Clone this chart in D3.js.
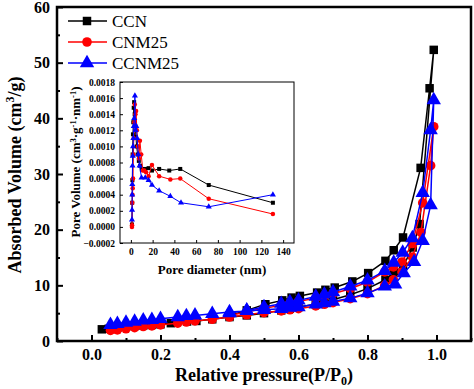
<!DOCTYPE html>
<html>
<head>
<meta charset="utf-8">
<script src="https://cdn.jsdelivr.net/npm/d3@7"></script>
<style>
  body { margin: 0; background: #fff; }
  text { font-family: "Liberation Serif", "Times New Roman", serif; }
</style>
</head>
<body>
<div id="chart"></div>
<script>
// Datos del gráfico principal (isotermas)
var seriesNames = ["CCN", "CNM25", "CCNM25"];
var seriesColors = ["#000000", "#ff0000", "#0000ff"];

var ccnP = [0.03, 0.05, 0.075, 0.1, 0.125, 0.15, 0.175, 0.2, 0.23, 0.277, 0.304, 0.35, 0.4, 0.45, 0.5, 0.55, 0.575, 0.6, 0.65, 0.675, 0.7, 0.75, 0.8, 0.852, 0.876, 0.903, 0.931, 0.951, 0.992,
            0.98, 0.954, 0.903, 0.876, 0.852, 0.802, 0.756, 0.705, 0.678, 0.654, 0.604, 0.58, 0.553, 0.504, 0.45, 0.4];
var ccnV = [2.1, 2.2, 2.4, 2.6, 2.7, 2.8, 2.9, 3.0, 3.2, 3.5, 3.6, 3.9, 4.3, 4.6, 5.0, 5.5, 5.8, 6.1, 6.6, 7.0, 7.4, 8.3, 9.4, 11.0, 12.3, 13.4, 16.8, 21.0, 52.3,
            45.4, 31.1, 18.6, 16.3, 14.4, 12.2, 10.7, 9.6, 9.2, 8.7, 8.1, 7.8, 7.3, 6.6, 5.5, 4.6];

var cnmP = [0.055, 0.075, 0.1, 0.125, 0.15, 0.175, 0.2, 0.25, 0.275, 0.3, 0.35, 0.4, 0.45, 0.5, 0.55, 0.575, 0.6, 0.65, 0.675, 0.7, 0.75, 0.8, 0.85, 0.875, 0.9, 0.93, 0.955, 0.983, 0.992,
            0.96, 0.93, 0.9, 0.875, 0.85, 0.8, 0.75, 0.7, 0.675, 0.65, 0.6, 0.575, 0.55, 0.5, 0.45, 0.4];
var cnmV = [1.9, 2.0, 2.2, 2.4, 2.6, 2.7, 2.9, 3.2, 3.4, 3.6, 3.9, 4.3, 4.7, 5.1, 5.4, 5.6, 5.8, 6.3, 6.6, 6.9, 7.6, 8.5, 10.0, 11.0, 12.4, 15.1, 19.5, 31.5, 38.5,
            24.8, 17.5, 14.2, 13.3, 12.4, 10.6, 9.4, 8.5, 8.1, 7.7, 7.1, 6.8, 6.4, 5.9, 5.2, 4.6];

var ccnmP = [0.055, 0.075, 0.1, 0.125, 0.15, 0.175, 0.2, 0.25, 0.275, 0.3, 0.35, 0.4, 0.45, 0.5, 0.55, 0.575, 0.6, 0.65, 0.675, 0.7, 0.75, 0.8, 0.85, 0.88, 0.905, 0.935, 0.96, 0.983, 0.992,
             0.983, 0.96, 0.93, 0.902, 0.876, 0.85, 0.8, 0.75, 0.7, 0.675, 0.65, 0.6, 0.575, 0.55, 0.5, 0.45, 0.4];
var ccnmV = [2.9, 3.1, 3.3, 3.5, 3.7, 3.8, 4.0, 4.3, 4.5, 4.6, 4.9, 5.2, 5.4, 5.6, 5.8, 6.0, 6.1, 6.6, 6.8, 7.1, 7.7, 8.6, 9.8, 10.2, 12.2, 14.2, 18.0, 24.4, 43.3,
             37.9, 26.6, 18.5, 15.9, 14.1, 12.6, 10.9, 9.8, 8.8, 8.4, 8.0, 7.3, 7.0, 6.7, 6.1, 5.5, 5.0];

// Datos del gráfico insertado (distribución de poros)
var ccnD = [1.0, 1.2, 1.4, 1.6, 1.9, 2.2, 2.6, 3.0, 3.5, 4.0, 4.6, 5.3, 6.2, 7.3, 8.5, 10.1, 13, 16.3, 19.4, 26, 35.3, 45.4, 71.6, 130.6];
var ccnPV = [0.00003, 0.00030, 0.00058, 0.00090, 0.00115, 0.00130, 0.00148, 0.00155, 0.00140, 0.00125, 0.00112, 0.00100, 0.00090, 0.00082, 0.00076, 0.00071, 0.00072, 0.00073, 0.00070, 0.00072, 0.00070, 0.00072, 0.00052, 0.00030];

var cnmD = [1.0, 1.1, 1.3, 1.5, 1.7, 2.0, 2.3, 2.7, 3.1, 3.6, 4.2, 4.8, 5.5, 6.4, 7.4, 8.3, 9.5, 11, 12.3, 14, 16.3, 19.4, 26, 36.3, 45.4, 71.6, 130.6];
var cnmPV = [0.00000, 0.00002, 0.00030, 0.00040, 0.00048, 0.00060, 0.00090, 0.00110, 0.00130, 0.00152, 0.00140, 0.00144, 0.00120, 0.00100, 0.00085, 0.00107, 0.00090, 0.00070, 0.00070, 0.00068, 0.00063, 0.00077, 0.00063, 0.00059, 0.00060, 0.00035, 0.00016];

var ccnmD = [1.0, 1.1, 1.2, 1.3, 1.5, 1.7, 2.0, 2.3, 2.7, 3.1, 3.7, 4.3, 5.0, 5.8, 6.8, 8.0, 9.8, 13.2, 16.3, 19.4, 26, 36.3, 46.1, 71.6, 130.6];
var ccnmPV = [0.00009, 0.00021, 0.00040, 0.00053, 0.00076, 0.00088, 0.00100, 0.00110, 0.00125, 0.00135, 0.00163, 0.00120, 0.00125, 0.00110, 0.00090, 0.00076, 0.00061, 0.00061, 0.00058, 0.00052, 0.00045, 0.00038, 0.00030, 0.00025, 0.00040];

// Marcas de los ejes
var xTicks = [0.0, 0.2, 0.4, 0.6, 0.8, 1.0];
var xMinor = [-0.1, 0.1, 0.3, 0.5, 0.7, 0.9, 1.1];
var yTicks = [0, 10, 20, 30, 40, 50, 60];
var yMinor = [5, 15, 25, 35, 45, 55];
var insetXTicks = [0, 20, 40, 60, 80, 100, 120, 140];
var insetYTicks = [-0.0002, 0, 0.0002, 0.0004, 0.0006, 0.0008, 0.0010, 0.0012, 0.0014, 0.0016, 0.0018];

var width = 474;
var height = 389;

var svg = d3.select("#chart")
  .append("svg")
  .attr("width", width)
  .attr("height", height);

svg.append("rect").attr("width", width).attr("height", height).attr("fill", "#fff");

// Escalas del gráfico principal
var x = d3.scaleLinear().domain([-0.1, 1.1]).range([57, 471]);
var y = d3.scaleLinear().domain([0, 60]).range([341, 7]);

var symbols = [d3.symbolSquare, d3.symbolCircle, d3.symbolTriangle];
var symbolSizes = [72, 72, 90];

// Ejes principales
svg.append("g").attr("transform", "translate(0,341)")
  .call(d3.axisBottom(x).tickValues(xTicks).tickSize(-6).tickPadding(8).tickFormat(d3.format(".1f")));
svg.append("g").attr("transform", "translate(0,341)")
  .call(d3.axisBottom(x).tickValues(xMinor).tickSize(-3).tickFormat(""));
svg.append("g").attr("transform", "translate(57,0)")
  .call(d3.axisLeft(y).tickValues(yTicks).tickSize(-6).tickPadding(7));
svg.append("g").attr("transform", "translate(57,0)")
  .call(d3.axisLeft(y).tickValues(yMinor).tickSize(-3).tickFormat(""));

svg.selectAll(".domain").remove();
svg.selectAll(".tick line").attr("stroke", "#000").attr("stroke-width", 2);
svg.selectAll(".tick text")
  .attr("font-family", "'Liberation Serif', 'Times New Roman', serif")
  .attr("font-size", 16)
  .attr("font-weight", "bold")
  .attr("fill", "#000");

// Series principales
var mainData = [
  { p: ccnP, v: ccnV },
  { p: cnmP, v: cnmV },
  { p: ccnmP, v: ccnmV }
];

var line = d3.line()
  .x(function(d) { return x(d[0]); })
  .y(function(d) { return y(d[1]); });

mainData.forEach(function(s, i) {
  var pts = s.p.map(function(p, j) { return [p, s.v[j]]; });
  svg.append("path")
    .datum(pts)
    .attr("d", line)
    .attr("fill", "none")
    .attr("stroke", seriesColors[i])
    .attr("stroke-width", 1.5);
  svg.selectAll(".m" + i)
    .data(pts)
    .enter()
    .append("path")
    .attr("class", "m" + i)
    .attr("d", d3.symbol().type(symbols[i]).size(symbolSizes[i]))
    .attr("transform", function(d) { return "translate(" + x(d[0]) + "," + y(d[1]) + ")"; })
    .attr("fill", seriesColors[i]);
});

// Leyenda
seriesNames.forEach(function(name, i) {
  var ly = 21 + i * 21;
  svg.append("line")
    .attr("x1", 68).attr("x2", 107).attr("y1", ly).attr("y2", ly)
    .attr("stroke", seriesColors[i]).attr("stroke-width", 1.5);
  svg.append("path")
    .attr("d", d3.symbol().type(symbols[i]).size(symbolSizes[i]))
    .attr("transform", "translate(87," + ly + ")")
    .attr("fill", seriesColors[i]);
  svg.append("text")
    .attr("x", 112).attr("y", ly + 6)
    .attr("font-size", 17)
    .text(name);
});

// Recuadro del gráfico insertado
var ix = d3.scaleLinear().domain([-10, 150]).range([120, 294]);
var iy = d3.scaleLinear().domain([-0.0002, 0.0018]).range([243, 82]);

svg.append("rect")
  .attr("x", 120).attr("y", 82).attr("width", 174).attr("height", 161)
  .attr("fill", "#fff").attr("stroke", "#000").attr("stroke-width", 1);

var igx = svg.append("g").attr("transform", "translate(0,243)")
  .call(d3.axisBottom(ix).tickValues(insetXTicks).tickSize(-3).tickPadding(5));
var igy = svg.append("g").attr("transform", "translate(120,0)")
  .call(d3.axisLeft(iy).tickValues(insetYTicks).tickSize(-3).tickPadding(5).tickFormat(d3.format(".4f")));
igx.select(".domain").remove();
igy.select(".domain").remove();
[igx, igy].forEach(function(g) {
  g.selectAll(".tick line").attr("stroke", "#000").attr("stroke-width", 1);
  g.selectAll(".tick text")
    .attr("font-family", "'Liberation Serif', 'Times New Roman', serif")
    .attr("font-size", 9.5)
    .attr("font-weight", "bold")
    .attr("fill", "#000");
});

var insetData = [
  { d: ccnD, v: ccnPV },
  { d: cnmD, v: cnmPV },
  { d: ccnmD, v: ccnmPV }
];

var iline = d3.line()
  .x(function(d) { return ix(d[0]); })
  .y(function(d) { return iy(d[1]); });

insetData.forEach(function(s, i) {
  var pts = s.d.map(function(dd, j) { return [dd, s.v[j]]; });
  svg.append("path")
    .datum(pts)
    .attr("d", iline)
    .attr("fill", "none")
    .attr("stroke", seriesColors[i])
    .attr("stroke-width", 1);
  svg.selectAll(".im" + i)
    .data(pts)
    .enter()
    .append("path")
    .attr("class", "im" + i)
    .attr("d", d3.symbol().type(symbols[i]).size(16))
    .attr("transform", function(d) { return "translate(" + ix(d[0]) + "," + iy(d[1]) + ")"; })
    .attr("fill", seriesColors[i]);
});

// Títulos del gráfico insertado
svg.append("text")
  .attr("x", 212).attr("y", 274)
  .attr("text-anchor", "middle")
  .attr("font-size", 13).attr("font-weight", "bold")
  .text("Pore diameter (nm)");

var iyl = svg.append("text")
  .attr("transform", "translate(80,162) rotate(-90)")
  .attr("text-anchor", "middle")
  .attr("font-size", 13).attr("font-weight", "bold");
iyl.append("tspan").text("Pore Volume (cm");
iyl.append("tspan").attr("dy", -4).attr("font-size", 8.5).text("3");
iyl.append("tspan").attr("dy", 4).text("·g");
iyl.append("tspan").attr("dy", -4).attr("font-size", 8.5).text("-1");
iyl.append("tspan").attr("dy", 4).text("·nm");
iyl.append("tspan").attr("dy", -4).attr("font-size", 8.5).text("-1");
iyl.append("tspan").attr("dy", 4).text(")");

// Marco principal
svg.append("rect")
  .attr("x", 57).attr("y", 7).attr("width", 414).attr("height", 334)
  .attr("fill", "none").attr("stroke", "#000").attr("stroke-width", 2.5);

// Títulos de los ejes principales
var xl = svg.append("text")
  .attr("x", 264).attr("y", 381)
  .attr("text-anchor", "middle")
  .attr("font-size", 18).attr("font-weight", "bold");
xl.append("tspan").text("Relative pressure(P/P");
xl.append("tspan").attr("dy", 4).attr("font-size", 12).text("0");
xl.append("tspan").attr("dy", -4).text(")");

var yl = svg.append("text")
  .attr("transform", "translate(21,175) rotate(-90)")
  .attr("text-anchor", "middle")
  .attr("font-size", 18).attr("font-weight", "bold");
yl.append("tspan").text("Absorbed Volume (cm");
yl.append("tspan").attr("dy", -7).attr("font-size", 12).text("3");
yl.append("tspan").attr("dy", 7).text("/g)");
</script>
</body>
</html>
